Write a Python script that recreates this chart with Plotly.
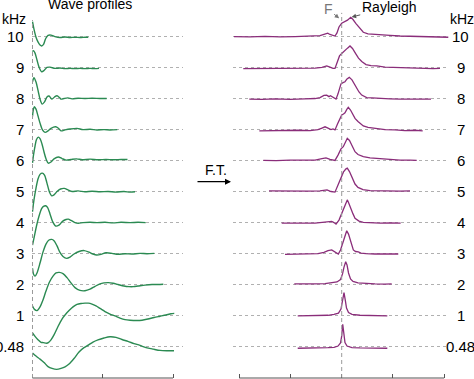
import plotly.graph_objects as go

# ---------------- data ----------------
FREQ_LABELS = ["0.48", "1", "2", "3", "4", "5", "6", "7", "8", "9", "10"]
LEVELS = list(range(len(FREQ_LABELS)))
TIME_TICKS = [0, 1, 2]
K_TICKS = [-2, -1, 0, 1, 2]

# wave profiles (time, amplitude relative to row baseline)
w048_t = [0, 0.050, 0.107, 0.164, 0.221, 0.278, 0.344, 0.406, 0.463, 0.520, 0.591, 0.662, 0.733, 0.794, 0.861, 0.932, 1.018, 1.103, 1.189, 1.274, 1.359, 1.445, 1.530, 1.616, 1.720, 1.815, 1.915, 2.014]
w048_a = [-0.19, -0.29, -0.39, -0.50, -0.63, -0.69, -0.72, -0.69, -0.64, -0.55, -0.37, -0.16, -0.02, 0.06, 0.16, 0.23, 0.29, 0.33, 0.31, 0.24, 0.18, 0.11, 0.05, -0.02, -0.07, -0.11, -0.12, -0.12]
w1_t = [0, 0.036, 0.078, 0.121, 0.154, 0.202, 0.225, 0.263, 0.306, 0.363, 0.420, 0.463, 0.520, 0.577, 0.633, 0.690, 0.747, 0.794, 0.847, 0.904, 0.961, 1.032, 1.103, 1.174, 1.246, 1.317, 1.388, 1.483, 1.559, 1.644, 1.730, 1.815, 1.900, 1.972, 2.018]
w1_a = [-0.55, -0.66, -0.77, -0.85, -0.86, -0.88, -0.86, -0.77, -0.61, -0.34, -0.10, 0.03, 0.17, 0.29, 0.37, 0.40, 0.41, 0.41, 0.38, 0.32, 0.24, 0.14, 0.06, 0.00, -0.07, -0.12, -0.14, -0.15, -0.14, -0.10, -0.05, -0.01, 0.03, 0.07, 0.08]
w2_t = [0, 0.028, 0.064, 0.107, 0.149, 0.192, 0.242, 0.292, 0.335, 0.381, 0.434, 0.491, 0.548, 0.605, 0.676, 0.747, 0.819, 0.890, 0.961, 1.018, 1.079, 1.146, 1.217, 1.302, 1.374, 1.435, 1.502, 1.601, 1.701, 1.786, 1.862]
w2_a = [-0.68, -0.79, -0.83, -0.71, -0.49, -0.20, 0.09, 0.28, 0.38, 0.40, 0.36, 0.23, 0.06, -0.09, -0.18, -0.19, -0.14, -0.05, 0.03, 0.06, 0.07, 0.05, 0.01, -0.04, -0.06, -0.06, -0.04, -0.01, 0.01, 0.01, 0.02]
w3_t = [0, 0.014, 0.036, 0.064, 0.107, 0.149, 0.192, 0.235, 0.273, 0.306, 0.349, 0.391, 0.434, 0.487, 0.534, 0.591, 0.662, 0.737, 0.804, 0.861, 0.914, 0.975, 1.046, 1.132, 1.217, 1.317, 1.416, 1.530, 1.630, 1.734]
w3_a = [-0.47, -0.65, -0.72, -0.62, -0.30, 0.05, 0.31, 0.44, 0.46, 0.42, 0.25, 0.04, -0.09, -0.15, -0.11, -0.01, 0.07, 0.10, 0.05, -0.01, -0.04, -0.02, 0.03, 0.01, -0.02, 0.00, -0.01, 0.01, 0.00, 0.01]
w4_t = [0, 0.021, 0.057, 0.093, 0.128, 0.157, 0.185, 0.214, 0.249, 0.285, 0.330, 0.377, 0.427, 0.477, 0.510, 0.548, 0.605, 0.652, 0.719, 0.819, 0.918, 1.032, 1.146, 1.260, 1.388, 1.502, 1.611]
w4_a = [-0.72, -0.50, -0.11, 0.21, 0.44, 0.52, 0.54, 0.49, 0.28, 0.04, -0.11, -0.08, 0.04, 0.10, 0.11, 0.07, 0.00, -0.02, 0.00, 0.01, 0.00, 0.01, -0.01, 0.01, 0.00, 0.01, 0.00]
w5_t = [0, 0.021, 0.050, 0.078, 0.107, 0.139, 0.171, 0.206, 0.242, 0.273, 0.306, 0.349, 0.399, 0.453, 0.505, 0.562, 0.648, 0.747, 0.847, 0.961, 1.075, 1.189, 1.302, 1.388, 1.459]
w5_a = [-0.65, -0.27, 0.11, 0.40, 0.55, 0.59, 0.53, 0.27, -0.02, -0.14, -0.11, 0.00, 0.08, 0.10, 0.05, 0.00, 0.02, -0.01, 0.01, -0.01, 0.00, -0.02, 0.00, -0.02, -0.01]
w6_t = [0, 0.014, 0.036, 0.057, 0.083, 0.107, 0.135, 0.164, 0.192, 0.225, 0.263, 0.306, 0.367, 0.420, 0.477, 0.548, 0.629, 0.705, 0.819, 0.932, 1.046, 1.160, 1.260, 1.352]
w6_a = [-0.08, 0.17, 0.46, 0.67, 0.75, 0.70, 0.53, 0.27, 0.05, -0.09, -0.05, 0.05, 0.11, 0.06, 0.01, 0.03, 0.05, 0.02, 0.04, 0.02, 0.03, 0.02, 0.03, 0.03]
w7_t = [0, 0.011, 0.026, 0.050, 0.078, 0.107, 0.142, 0.178, 0.221, 0.263, 0.330, 0.370, 0.406, 0.463, 0.534, 0.633, 0.719, 0.819, 0.918, 1.018, 1.103, 1.207]
w7_a = [0.41, 0.62, 0.73, 0.65, 0.43, 0.20, -0.02, -0.10, -0.05, 0.03, 0.08, 0.03, -0.05, -0.02, 0.01, 0.03, -0.01, 0.00, -0.02, -0.01, -0.02, -0.01]
w8_t = [0, 0.021, 0.050, 0.078, 0.107, 0.139, 0.171, 0.206, 0.235, 0.278, 0.313, 0.349, 0.384, 0.406, 0.448, 0.505, 0.562, 0.648, 0.747, 0.847, 0.961, 1.056]
w8_a = [0.53, 0.66, 0.52, 0.26, -0.03, -0.19, -0.12, 0.04, 0.07, -0.03, 0.04, 0.08, 0.02, -0.03, -0.01, 0.01, -0.02, 0.00, -0.01, 0.00, -0.01, -0.01]
w9_t = [0, 0.014, 0.036, 0.064, 0.093, 0.131, 0.164, 0.206, 0.249, 0.320, 0.391, 0.463, 0.534, 0.605, 0.676, 0.747, 0.819, 0.890, 0.947]
w9_a = [0.50, 0.53, 0.45, 0.23, 0.00, -0.15, -0.11, -0.01, 0.00, -0.04, -0.03, -0.05, -0.04, -0.05, -0.04, -0.05, -0.04, -0.05, -0.04]
w10_t = [0, 0.021, 0.050, 0.078, 0.107, 0.131, 0.157, 0.188, 0.221, 0.263, 0.320, 0.391, 0.463, 0.534, 0.605, 0.676, 0.747, 0.794]
w10_a = [0.46, 0.22, -0.04, -0.19, -0.29, -0.32, -0.27, -0.08, 0.02, 0.03, -0.02, -0.05, -0.03, -0.05, -0.04, -0.05, -0.04, -0.04]

# Fourier spectra (wavenumber, amplitude relative to row baseline)
s048_u = [-0.859, -0.619, -0.424, -0.268, -0.150, -0.072, -0.023, 0, 0.020, 0.039, 0.064, 0.104, 0.201, 0.357, 0.553, 0.891]
s048_a = [-0.04, -0.04, -0.03, -0.02, -0.01, 0.03, 0.13, 0.35, 0.73, 0.42, 0.14, 0.03, -0.02, -0.03, -0.04, -0.04]
s1_u = [-0.859, -0.619, -0.424, -0.268, -0.150, -0.063, -0.014, 0.016, 0.045, 0.070, 0.094, 0.133, 0.201, 0.357, 0.553, 0.748, 0.891]
s1_a = [0.00, 0.00, 0.01, 0.02, 0.05, 0.09, 0.22, 0.45, 0.75, 0.51, 0.25, 0.11, 0.05, 0.02, 0.01, 0.00, 0.00]
s2_u = [-0.926, -0.717, -0.521, -0.326, -0.189, -0.092, -0.023, 0.016, 0.045, 0.078, 0.104, 0.133, 0.172, 0.221, 0.318, 0.455, 0.650, 0.846, 0.977]
s2_a = [0.03, 0.02, 0.03, 0.04, 0.06, 0.09, 0.17, 0.35, 0.57, 0.74, 0.64, 0.38, 0.19, 0.11, 0.06, 0.04, 0.03, 0.02, 0.03]
s3_u = [-1.107, -0.893, -0.658, -0.463, -0.346, -0.268, -0.195, -0.150, -0.102, -0.066, -0.023, 0.025, 0.064, 0.098, 0.133, 0.172, 0.201, 0.227, 0.270, 0.324, 0.377, 0.475, 0.650, 0.846, 1.105]
s3_a = [-0.02, -0.02, -0.01, 0.00, 0.04, 0.10, 0.12, 0.07, 0.01, -0.01, 0.12, 0.38, 0.60, 0.74, 0.63, 0.38, 0.22, 0.12, 0.07, 0.06, 0.02, 0.00, -0.01, -0.02, -0.01]
s4_u = [-1.172, -0.951, -0.717, -0.521, -0.385, -0.268, -0.195, -0.150, -0.111, -0.053, 0.006, 0.055, 0.084, 0.109, 0.133, 0.172, 0.221, 0.260, 0.338, 0.422, 0.553, 0.748, 0.943, 1.152]
s4_a = [-0.02, -0.03, -0.02, -0.02, 0.00, 0.03, 0.04, 0.00, -0.05, 0.08, 0.31, 0.53, 0.66, 0.73, 0.65, 0.47, 0.28, 0.14, 0.05, 0.01, -0.01, -0.02, -0.01, -0.02]
s5_u = [-1.420, -1.166, -0.912, -0.658, -0.424, -0.287, -0.209, -0.131, -0.072, -0.014, 0.035, 0.084, 0.109, 0.152, 0.201, 0.260, 0.318, 0.416, 0.553, 0.748, 0.943, 1.139, 1.334]
s5_a = [0.02, 0.01, 0.02, 0.01, 0.02, 0.05, 0.00, -0.02, 0.21, 0.43, 0.63, 0.73, 0.75, 0.64, 0.45, 0.24, 0.13, 0.06, 0.03, 0.02, 0.03, 0.01, 0.02]
s6_u = [-1.531, -1.283, -1.010, -0.756, -0.521, -0.385, -0.307, -0.229, -0.131, -0.072, -0.014, 0.031, 0.070, 0.109, 0.152, 0.201, 0.260, 0.318, 0.422, 0.553, 0.748, 0.943, 1.139, 1.334, 1.465]
s6_a = [0.00, -0.01, 0.01, 0.00, 0.01, 0.06, 0.08, 0.03, 0.00, 0.17, 0.37, 0.44, 0.59, 0.71, 0.64, 0.48, 0.28, 0.19, 0.12, 0.08, 0.05, 0.02, 0.01, 0.01, 0.00]
s7_u = [-1.609, -1.361, -1.107, -0.854, -0.619, -0.463, -0.385, -0.326, -0.268, -0.209, -0.170, -0.131, -0.082, -0.033, 0, 0.035, 0.064, 0.100, 0.129, 0.172, 0.211, 0.260, 0.318, 0.367, 0.422, 0.514, 0.650, 0.846, 1.041, 1.236, 1.432, 1.582]
s7_a = [-0.05, -0.04, -0.05, -0.03, -0.04, -0.01, 0.04, 0.08, 0.04, -0.01, 0.01, -0.02, 0.17, 0.38, 0.46, 0.49, 0.53, 0.64, 0.71, 0.62, 0.49, 0.35, 0.25, 0.17, 0.11, 0.06, 0.03, -0.01, -0.02, -0.04, -0.03, -0.05]
s8_u = [-1.805, -1.557, -1.303, -1.010, -0.717, -0.521, -0.424, -0.346, -0.293, -0.248, -0.219, -0.170, -0.111, -0.072, -0.014, 0.025, 0.064, 0.104, 0.148, 0.201, 0.250, 0.293, 0.338, 0.391, 0.436, 0.488, 0.592, 0.748, 0.943, 1.139, 1.334, 1.529, 1.744]
s8_a = [-0.03, -0.04, -0.02, -0.04, -0.02, -0.01, 0.02, 0.09, 0.10, 0.05, 0.08, 0.02, -0.03, 0.14, 0.46, 0.50, 0.53, 0.62, 0.67, 0.59, 0.44, 0.32, 0.20, 0.10, 0.05, 0.02, 0.01, -0.01, -0.02, -0.03, -0.03, -0.04, -0.03]
s9_u = [-1.922, -1.635, -1.342, -1.049, -0.756, -0.521, -0.385, -0.293, -0.229, -0.170, -0.131, -0.092, -0.043, 0, 0.064, 0.113, 0.162, 0.211, 0.270, 0.328, 0.391, 0.475, 0.572, 0.684, 0.846, 1.041, 1.236, 1.432, 1.627, 1.783, 1.920]
s9_a = [-0.05, -0.05, -0.04, -0.05, -0.04, -0.03, -0.01, 0.04, 0.00, -0.04, -0.04, 0.13, 0.36, 0.44, 0.55, 0.61, 0.68, 0.60, 0.44, 0.29, 0.18, 0.08, 0.05, 0.04, 0.00, -0.01, -0.03, -0.04, -0.04, -0.05, -0.04]
s10_u = [-2.104, -1.791, -1.498, -1.205, -0.912, -0.619, -0.424, -0.346, -0.273, -0.229, -0.170, -0.131, -0.092, -0.053, 0, 0.064, 0.113, 0.176, 0.221, 0.279, 0.357, 0.422, 0.514, 0.650, 0.748, 0.943, 1.139, 1.334, 1.529, 1.725, 1.920, 2.082]
s10_a = [-0.02, -0.03, -0.01, -0.03, -0.02, -0.01, 0.01, 0.05, 0.09, 0.05, 0.01, 0.00, 0.10, 0.29, 0.41, 0.46, 0.51, 0.60, 0.53, 0.40, 0.23, 0.12, 0.07, 0.05, 0.03, 0.02, 0.00, -0.01, -0.02, -0.03, -0.03, -0.04]

WAVE_T = [w048_t, w1_t, w2_t, w3_t, w4_t, w5_t, w6_t, w7_t, w8_t, w9_t, w10_t]
WAVE_A = [w048_a, w1_a, w2_a, w3_a, w4_a, w5_a, w6_a, w7_a, w8_a, w9_a, w10_a]
SPEC_U = [s048_u, s1_u, s2_u, s3_u, s4_u, s5_u, s6_u, s7_u, s8_u, s9_u, s10_u]
SPEC_A = [s048_a, s1_a, s2_a, s3_a, s4_a, s5_a, s6_a, s7_a, s8_a, s9_a, s10_a]

# ---------------- style ----------------
W, H = 474, 379
GREEN = "#2b8a52"
PURPLE = "#8a2d7a"
GRID = "#b0b0b0"
DASH = "#9a9a9a"
FONT = "Liberation Sans, Arial, sans-serif"
Y_RANGE = [-0.997, 11.158]

fig = go.Figure()
for lvl, t, a in zip(LEVELS, WAVE_T, WAVE_A):
    fig.add_trace(go.Scatter(x=t, y=[lvl + v for v in a], xaxis="x", yaxis="y",
                             mode="lines", hoverinfo="skip", showlegend=False,
                             line=dict(color=GREEN, width=1.4, shape="spline", smoothing=0.8)))
for lvl, u, a in zip(LEVELS, SPEC_U, SPEC_A):
    fig.add_trace(go.Scatter(x=u, y=[lvl + v for v in a], xaxis="x2", yaxis="y2",
                             mode="lines", hoverinfo="skip", showlegend=False,
                             line=dict(color=PURPLE, width=1.3)))

xcommon = dict(showticklabels=False, showgrid=False, zeroline=False, showline=False,
               ticks="inside", ticklen=4, tickcolor="#555", tickwidth=1, automargin=False)
ycommon = dict(range=Y_RANGE, tickvals=LEVELS, showticklabels=False, ticks="",
               showgrid=True, gridcolor=GRID, gridwidth=1, griddash="dot",
               zeroline=False, showline=False, automargin=False, domain=[0, 1])

fig.update_layout(
    width=W, height=H,
    margin=dict(l=0, r=0, t=0, b=1),
    paper_bgcolor="white", plot_bgcolor="white",
    font=dict(family=FONT, size=14, color="black"),
    xaxis=dict(domain=[32 / W, 183 / W], range=[-0.0071, 2.1423], tickvals=TIME_TICKS, anchor="y", **xcommon),
    xaxis2=dict(domain=[233 / W, 449 / W], range=[-2.123, 2.0957], tickvals=K_TICKS, anchor="y2", **xcommon),
    yaxis=dict(anchor="x", **ycommon),
    yaxis2=dict(anchor="x2", **ycommon),
)

shapes = [
    dict(type="line", xref="x", yref="paper", x0=TIME_TICKS[0], x1=TIME_TICKS[0], y0=0, y1=0.947,
         line=dict(color=DASH, width=1, dash="4px,3px")),
    dict(type="line", xref="x2", yref="paper", x0=0, x1=0, y0=0, y1=0.966,
         line=dict(color=DASH, width=1, dash="4px,3px")),
    dict(type="line", xref="x", yref="paper", x0=TIME_TICKS[0], x1=TIME_TICKS[-1], y0=0, y1=0,
         line=dict(color="#555", width=1)),
    dict(type="line", xref="x2", yref="paper", x0=K_TICKS[0], x1=K_TICKS[-1], y0=0, y1=0,
         line=dict(color="#555", width=1)),
]
fig.update_layout(shapes=shapes)

ann = []
for lvl, lab in zip(LEVELS, FREQ_LABELS):
    ann.append(dict(text=lab, xref="paper", yref="y", x=26 / W, y=lvl, xanchor="right",
                    yanchor="middle", showarrow=False, font=dict(size=15)))
    ann.append(dict(text=lab, xref="paper", yref="y2", x=460.5 / W, y=lvl, xanchor="center",
                    yanchor="middle", showarrow=False, font=dict(size=15)))
ann.append(dict(text="kHz", xref="paper", yref="paper", x=27.5 / W, y=1 - 19.3 / 378,
                xanchor="right", yanchor="middle", showarrow=False, font=dict(size=14)))
ann.append(dict(text="kHz", xref="paper", yref="paper", x=462 / W, y=1 - 19.3 / 378,
                xanchor="center", yanchor="middle", showarrow=False, font=dict(size=14)))
ann.append(dict(text="Wave profiles", xref="paper", yref="paper", x=89.7 / W, y=1 - 4.5 / 378,
                xanchor="center", yanchor="middle", showarrow=False, font=dict(size=14)))
# F.T. label and arrow
ann.append(dict(text="F.T.", xref="paper", yref="paper", x=216 / W, y=1 - 170 / 378,
                xanchor="center", yanchor="middle", showarrow=False, font=dict(size=14)))
ann.append(dict(text="", xref="paper", yref="paper", x=231 / W, y=1 - 181.7 / 378,
                showarrow=True, ax=-35, ay=0, arrowhead=2, arrowsize=1, arrowwidth=1.2,
                arrowcolor="black"))
# Rayleigh arrow -> peak of top spectrum
peak_i = max(range(len(s10_a)), key=lambda i: s10_a[i])
ann.append(dict(text="Rayleigh", xref="x2", yref="y2", x=s10_u[peak_i], y=LEVELS[-1] + s10_a[peak_i],
                showarrow=True, ax=38, ay=-10, arrowhead=2, arrowsize=0.9, arrowwidth=1,
                arrowcolor="#555", standoff=1, font=dict(size=14, color="black")))
ann.append(dict(text="F", xref="x2", yref="y2", x=-0.05, y=10.57,
                showarrow=True, ax=-11, ay=-9, arrowhead=2, arrowsize=0.9, arrowwidth=1,
                arrowcolor="#777", font=dict(size=14, color="#777")))
fig.update_layout(annotations=ann)

# remove the default page margin so the figure fills the window exactly
PAGE_JS = "document.body.style.margin='0';document.body.style.overflow='hidden';"
fig.write_html("out.html", post_script=PAGE_JS, config={"displayModeBar": False})
